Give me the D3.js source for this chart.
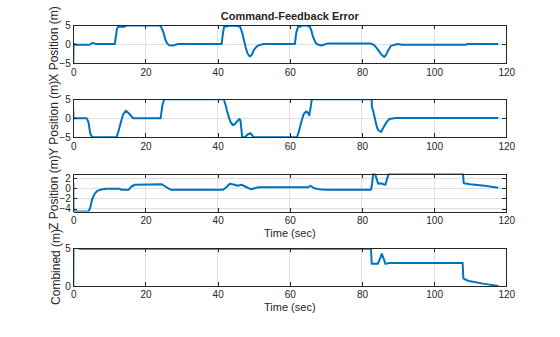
<!DOCTYPE html>
<html><head><meta charset="utf-8">
<script src="https://cdn.jsdelivr.net/npm/d3@7"></script>
<style>
body{margin:0;background:#fff;}
text{font-family:"Liberation Sans",Arial,sans-serif;fill:#262626;}
</style></head>
<body><svg id="c" width="560" height="337"></svg>
<script>
const title = "Command-Feedback Error";
const xTicks = [0,20,40,60,80,100,120];
const xLabel = "Time (sec)";

const xErrT = [0,0.05,1,4.5,5.3,6.4,11.5,12.1,12.5,14,14.8,24,24.5,25,25.4,25.9,26.5,27.2,28,29,41.1,41.5,41.8,42.5,43,45,46.2,46.8,47.3,47.8,48.3,48.9,49.5,50.1,50.8,51.5,52.8,61.4,61.8,62.3,63,63.5,64.5,65.5,66,66.4,66.9,67.4,68.7,70,70.5,82.5,83.4,84.2,84.8,85.5,86.2,86.6,87.1,88,89.9,91,108.8,109.2,117.8];
const xErrV = [-5,0,-0.2,-0.2,0.3,0,0,4,4.6,4.5,4.9,4.9,4.2,3,1.5,0.3,-0.3,-0.4,-0.3,0,0,3,4.6,4.6,4.8,4.8,4.6,3,1,-1,-2.5,-3.3,-2.8,-1.5,-0.7,-0.3,0,0,3,4.6,4.6,4.9,4.9,4.6,3.5,2,0.8,0,-0.4,0,0.1,0.1,-0.3,-1.2,-2,-2.9,-3.4,-3,-2,-0.5,0,-0.2,-0.2,0,0];

const yErrT = [0,0.05,3.7,4.2,4.7,5.2,6,12,12.5,12.9,13.4,13.8,14.6,15.5,16.6,24.2,24.7,25.2,41.7,42.2,42.6,43.1,43.6,44.2,44.8,45.4,46,46.3,46.6,46.8,47.5,48.4,49.1,49.6,50,62,62.5,62.9,63.4,63.8,64.5,65,65.4,65.8,66.1,82.7,82.75,83.1,83.5,84,84.4,85.3,86.2,87,87.6,89.4,100,117.8];
const yErrV = [2,0,0,-1,-4,-4.9,-5,-5,-3.5,-2,-0.3,1,2,1.2,0,0,3.5,5,5,3.5,2,0.3,-1,-1.8,-1.5,-0.8,-0.2,-0.5,-3,-5,-5,-4.2,-3.9,-4.5,-5,-5,-3.5,-2,-0.3,1,1.8,1.5,0.8,3,5,5,3,2,0.3,-1.8,-3,-3.6,-2,-0.8,-0.2,0.1,0.1,0.1];

const zErrT = [0,0.05,4.2,4.7,5.1,5.5,6,6.7,7.4,9.2,12.9,13.4,15.3,16.2,17.1,24.5,25.4,26.3,27.2,41.5,42.4,43.4,44.7,45.6,46.6,47.5,49.3,50.7,51.5,65,65.7,66.8,68.1,70,82.5,82.8,83.1,83.6,84,84.5,85.2,86,86.5,87,87.5,108,108.2,110,114,117.8];
const zErrV = [1.2,-4.6,-4.6,-3.8,-2.5,-1.7,-1,-0.5,-0.3,-0.1,-0.1,-0.3,-0.3,0.4,0.7,0.8,0.4,0,-0.3,-0.3,0.2,0.9,0.7,0.5,0.7,0.4,-0.2,0.1,0.2,0.2,0.5,0,-0.2,-0.3,-0.3,0.8,2.9,2.9,2,0.9,1,0.8,0.7,2,2.9,2.9,1.0,0.8,0.5,0.1];

const combT = [0,0.05,1.5,1.6,82.5,82.7,84.4,85,85.5,86,86.5,87.6,107.9,108.1,109,110,113.5,117.8];
const combV = [0,5,5,4.9,4.9,2.9,2.9,3.6,4.2,3.6,2.9,3.0,3.0,1.0,0.75,0.6,0.3,0];

const panels = [
  {t:xErrT, v:xErrV, yLabel:"X Position (m)", ylim:[-5,5], yTicks:[-5,0,5], xl:false},
  {t:yErrT, v:yErrV, yLabel:"Y Position (m)", ylim:[-5,5], yTicks:[-5,0,5], xl:false},
  {t:zErrT, v:zErrV, yLabel:"Z Position (m)", ylim:[-4.6,2.9], yTicks:[-4,-2,0,2], xl:true},
  {t:combT, v:combV, yLabel:"Combined (m)", ylim:[0,5], yTicks:[0,5], xl:true}
];

const svg = d3.select("#c");
const L = 73.3, R = 506.3, H = 38, top0 = 25, step = 74.3;
const x = d3.scaleLinear().domain([0,120]).range([L,R]);
const ink = "#262626", grid = "#dfdfdf", lineC = "#0072BD";

svg.append("text").attr("x",(L+R)/2).attr("y",20).attr("text-anchor","middle")
  .style("font-size","11px").style("font-weight","bold").text(title);

panels.forEach((p,i)=>{
  const T = top0 + step*i, B = T + H;
  const y = d3.scaleLinear().domain(p.ylim).range([B,T]);
  const g = svg.append("g");
  g.append("g").selectAll("line").data(xTicks.slice(1,-1)).join("line")
    .attr("x1",d=>x(d)).attr("x2",d=>x(d)).attr("y1",T).attr("y2",B)
    .attr("stroke",grid).attr("stroke-width",1).attr("shape-rendering","crispEdges");
  g.append("g").selectAll("line").data(p.yTicks.filter(d=>d>p.ylim[0]&&d<p.ylim[1])).join("line")
    .attr("x1",L).attr("x2",R).attr("y1",d=>y(d)).attr("y2",d=>y(d))
    .attr("stroke",grid).attr("stroke-width",1).attr("shape-rendering","crispEdges");
  const cid = "clip"+i;
  svg.append("clipPath").attr("id",cid).append("rect").attr("x",L).attr("y",T).attr("width",R-L).attr("height",H);
  const pts = p.t.map((t,k)=>[t,p.v[k]]);
  g.append("path").datum(pts).attr("clip-path","url(#"+cid+")")
    .attr("d",d3.line().x(d=>x(d[0])).y(d=>y(d[1])))
    .attr("fill","none").attr("stroke",lineC).attr("stroke-width",2).attr("stroke-linejoin","round");
  const ax = (a)=>a.tickSizeOuter(0);
  const gb = g.append("g").attr("transform",`translate(0,${B})`)
    .call(ax(d3.axisBottom(x).tickValues(xTicks).tickFormat(d3.format("d")).tickSize(-4).tickPadding(5.5)));
  const gt = g.append("g").attr("transform",`translate(0,${T})`)
    .call(ax(d3.axisTop(x).tickValues(xTicks).tickFormat("").tickSize(-4)));
  const gl = g.append("g").attr("transform",`translate(${L},0)`)
    .call(ax(d3.axisLeft(y).tickValues(p.yTicks).tickFormat(d3.format("d")).tickSize(-4).tickPadding(2.5)));
  const gr = g.append("g").attr("transform",`translate(${R},0)`)
    .call(ax(d3.axisRight(y).tickValues(p.yTicks).tickFormat("").tickSize(-4)));
  [gb,gt,gl,gr].forEach(a=>{
    a.select(".domain").attr("stroke",ink).attr("shape-rendering","crispEdges");
    a.selectAll(".tick line").attr("stroke",ink).attr("shape-rendering","crispEdges");
    a.selectAll(".tick text").attr("fill",ink).style("font-size","10px")
      .style("font-family",'"Liberation Sans",Arial,sans-serif');
  });
  const lx = (i===3) ? 60 : 57.5;
  svg.append("text").attr("transform",`translate(${lx},${(T+B)/2}) rotate(-90)`)
    .attr("text-anchor","middle").style("font-size","12px").text(p.yLabel);
  if (p.xl) {
    svg.append("text").attr("x",(L+R)/2).attr("y",B+25).attr("text-anchor","middle")
      .style("font-size","11px").text(xLabel);
  }
});
</script></body></html>
